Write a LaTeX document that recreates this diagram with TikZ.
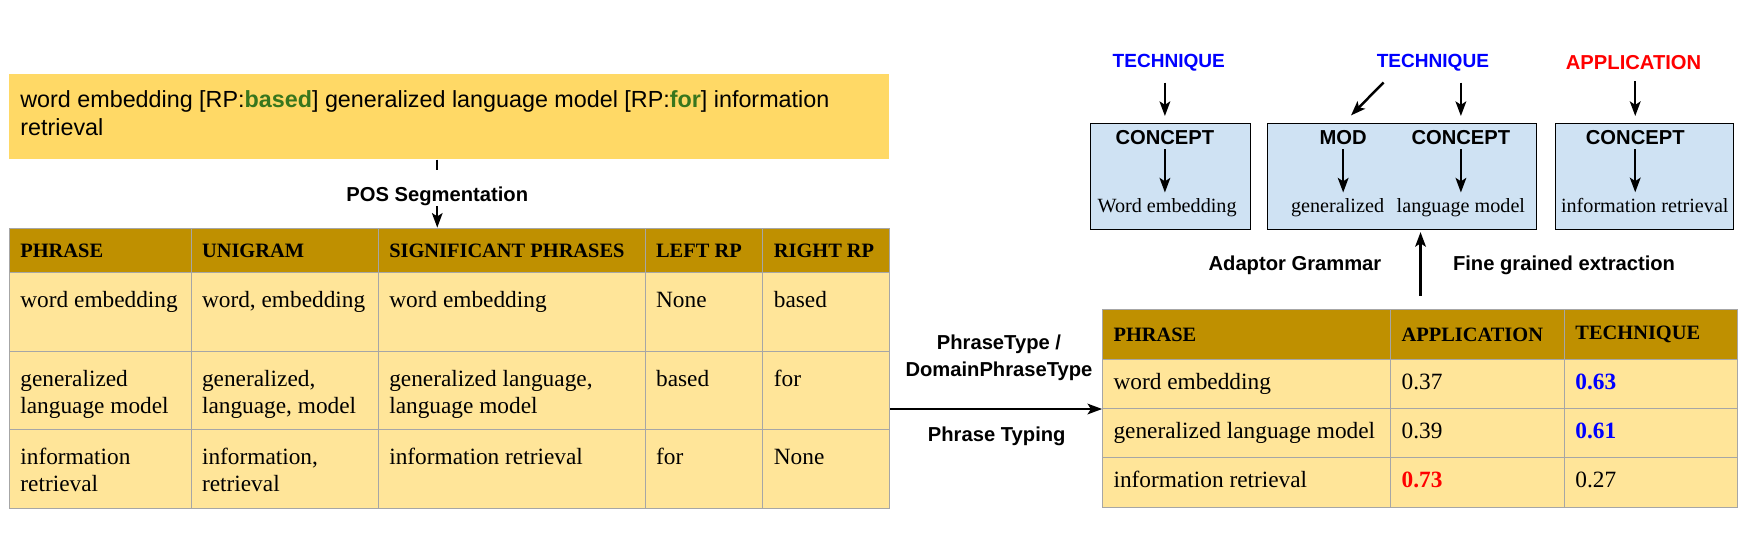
\documentclass[tikz,border=0pt]{standalone}
\usepackage{fontspec}
\setmainfont{Liberation Serif}
\setsansfont{Liberation Sans}
\usetikzlibrary{arrows.meta,calc}
\definecolor{topfill}{HTML}{FFD966}
\definecolor{bodyfill}{HTML}{FFE599}
\definecolor{hdrfill}{HTML}{BF9000}
\definecolor{conceptfill}{HTML}{CFE2F3}
\definecolor{gridgray}{HTML}{A6A6A6}
\definecolor{rpgreen}{HTML}{38761D}
\definecolor{techblue}{HTML}{0000FF}
\definecolor{appred}{HTML}{FF0000}
\newcommand{\bodyfnt}{\fontsize{20.8pt}{24pt}\selectfont}
\newcommand{\headfnt}{\bfseries\fontsize{18.2pt}{21pt}\selectfont}
\newcommand{\lblfnt}{\sffamily\bfseries\fontsize{18pt}{24pt}\selectfont}
\newcommand{\topfnt}{\sffamily\fontsize{20.8pt}{25pt}\selectfont}
\newcommand{\tagfnt}{\sffamily\bfseries\fontsize{17pt}{20pt}\selectfont}
\newcommand{\appfnt}{\sffamily\bfseries\fontsize{18pt}{20pt}\selectfont}
\newcommand{\boxfnt}{\fontsize{18pt}{22pt}\selectfont}
\begin{document}
\begin{tikzpicture}[x=1pt,y=-1pt,
  topbox/.style={fill=topfill, anchor=north west, minimum width=785pt, minimum height=76pt, inner sep=0pt},
  toptxt/.style={anchor=north west, inner sep=0pt, align=left, font=\topfnt},
  hdrL/.style={draw=gridgray, line width=0.8pt, fill=hdrfill, anchor=north west, inner sep=0pt, minimum height=40pt},
  cellL/.style={draw=gridgray, line width=0.8pt, fill=bodyfill, anchor=north west, inner sep=0pt, minimum height=70pt},
  hdrR/.style={draw=gridgray, line width=0.8pt, fill=hdrfill, anchor=north west, inner sep=0pt, minimum height=44pt},
  cellR/.style={draw=gridgray, line width=0.8pt, fill=bodyfill, anchor=north west, inner sep=0pt, minimum height=44pt},
  htxt/.style={anchor=west, inner sep=0pt, font=\headfnt},
  btxt/.style={anchor=north west, inner sep=0pt, font=\bodyfnt, align=left},
  rtxt/.style={anchor=west, inner sep=0pt, font=\bodyfnt, text height=14pt, text depth=4.5pt},
  lbl/.style={inner sep=0pt, font=\lblfnt, align=center},
  tag/.style={inner sep=0pt, font=\tagfnt},
  cbox/.style={draw=black, line width=1pt, fill=conceptfill, anchor=north west, minimum height=94pt, inner sep=0pt},
  clab/.style={inner sep=0pt, font=\lblfnt},
  ctxt/.style={inner sep=0pt, font=\boxfnt, anchor=base},
  conn/.style={line width=2.2pt, -{Stealth[length=13pt,width=9.5pt,inset=3pt]}},
  plain/.style={line width=2pt}
]
\useasboundingbox (0,0) rectangle (1568,483);

% ---------- top sentence box
\node[topbox] (top) at (8,66) {};
\node[toptxt] (toptext) at (18,80.6) {word embedding [RP:\textbf{\color{rpgreen}based}] generalized language model [RP:\textbf{\color{rpgreen}for}] information\\retrieval};

% ---------- left table
\node[hdrL, minimum width=162pt] (h1) at (8,203) {};
\node[hdrL, minimum width=167pt] (h2) at (170,203) {};
\node[hdrL, minimum width=238pt] (h3) at (337,203) {};
\node[hdrL, minimum width=105pt] (h4) at (575,203) {};
\node[hdrL, minimum width=113pt] (h5) at (680,203) {};
\foreach \r/\y in {1/243,2/313,3/383}{
  \node[cellL, minimum width=162pt] (r\r1) at (8,\y) {};
  \node[cellL, minimum width=167pt] (r\r2) at (170,\y) {};
  \node[cellL, minimum width=238pt] (r\r3) at (337,\y) {};
  \node[cellL, minimum width=105pt] (r\r4) at (575,\y) {};
  \node[cellL, minimum width=113pt] (r\r5) at (680,\y) {};
}
\node[htxt] (th1) at ($(h1.west)+(10,0)$) {PHRASE};
\node[htxt] (th2) at ($(h2.west)+(10,0)$) {UNIGRAM};
\node[htxt] (th3) at ($(h3.west)+(10,0)$) {SIGNIFICANT PHRASES};
\node[htxt] (th4) at ($(h4.west)+(10,0)$) {LEFT RP};
\node[htxt] (th5) at ($(h5.west)+(10,0)$) {RIGHT RP};

\node[btxt] (t11) at ($(r11.north west)+(10,16.8)$) {word embedding};
\node[btxt] (t12) at ($(r12.north west)+(10,16.8)$) {word, embedding};
\node[btxt] (t13) at ($(r13.north west)+(10,16.8)$) {word embedding};
\node[btxt] (t14) at ($(r14.north west)+(10,17.2)$) {None};
\node[btxt] (t15) at ($(r15.north west)+(10,16.8)$) {based};

\node[btxt] (t21) at ($(r21.north west)+(10,16.8)$) {generalized\\language model};
\node[btxt] (t22) at ($(r22.north west)+(10,16.8)$) {generalized,\\language, model};
\node[btxt] (t23) at ($(r23.north west)+(10,16.8)$) {generalized language,\\language model};
\node[btxt] (t24) at ($(r24.north west)+(10,16.8)$) {based};
\node[btxt] (t25) at ($(r25.north west)+(10,16.8)$) {for};

\node[btxt] (t31) at ($(r31.north west)+(10,16.8)$) {information\\retrieval};
\node[btxt] (t32) at ($(r32.north west)+(10,16.8)$) {information,\\retrieval};
\node[btxt] (t33) at ($(r33.north west)+(10,16.8)$) {information retrieval};
\node[btxt] (t34) at ($(r34.north west)+(10,16.8)$) {for};
\node[btxt] (t35) at ($(r35.north west)+(10,17.2)$) {None};

% ---------- POS segmentation connector
\node[lbl, anchor=base] (pos) at (390,180) {POS Segmentation};
\draw[plain] (top.south -| pos.north) -- ($(pos.north)+(0,-15)$);
\draw[conn, line width=1.8pt] (pos.south) -- (pos.south |- h3.north);

% ---------- right table
\node[hdrR, minimum width=257pt] (Rh1) at (983,276) {};
\node[hdrR, minimum width=155pt] (Rh2) at (1240,276) {};
\node[hdrR, minimum width=154pt] (Rh3) at (1395,276) {};
\foreach \r/\y in {1/320,2/364,3/408}{
  \node[cellR, minimum width=257pt] (R\r1) at (983,\y) {};
  \node[cellR, minimum width=155pt] (R\r2) at (1240,\y) {};
  \node[cellR, minimum width=154pt] (R\r3) at (1395,\y) {};
}
\node[htxt] (Th1) at ($(Rh1.west)+(10,0)$) {PHRASE};
\node[htxt] (Th2) at ($(Rh2.west)+(10,0)$) {APPLICATION};
\node[htxt] (Th3) at ($(Rh3.west)+(10,0)$) {TECHNIQUE};
\node[rtxt] (T11) at ($(R11.west)+(10,0)$) {word embedding};
\node[rtxt] (T12) at ($(R12.west)+(10,0)$) {0.37};
\node[rtxt] (T13) at ($(R13.west)+(10,0)$) {\textbf{\color{techblue}0.63}};
\node[rtxt] (T21) at ($(R21.west)+(10,0)$) {generalized language model};
\node[rtxt] (T22) at ($(R22.west)+(10,0)$) {0.39};
\node[rtxt] (T23) at ($(R23.west)+(10,0)$) {\textbf{\color{techblue}0.61}};
\node[rtxt] (T31) at ($(R31.west)+(10,0)$) {information retrieval};
\node[rtxt] (T32) at ($(R32.west)+(10,0)$) {\textbf{\color{appred}0.73}};
\node[rtxt] (T33) at ($(R33.west)+(10,0)$) {0.27};

% ---------- phrase typing connector
\draw[conn] (r25.east |- R11.south west) -- (R11.south west);
\node[lbl] (ptype) at (891,319) {PhraseType /\\DomainPhraseType};
\node[lbl] (ptyping) at (889,389) {Phrase Typing};

% ---------- concept boxes
\node[cbox, minimum width=143pt] (cb1) at (972,110) {};
\node[cbox, minimum width=240pt] (cb2) at (1130,110) {};
\node[cbox, minimum width=159.5pt] (cb3) at (1386.5,110) {};

\node[clab] (cl1) at (1039,122.5) {CONCEPT};
\node[clab] (mod) at (1198,122.5) {MOD};
\node[clab] (cl2) at (1303,122.5) {CONCEPT};
\node[clab] (cl3) at (1458.5,122.5) {CONCEPT};

\node[ctxt] (ct1) at (1041,189.4) {Word embedding};
\node[ctxt] (ct2a) at (1193,189.4) {generalized};
\node[ctxt] (ct2b) at (1303,189.4) {language model};
\node[ctxt] (ct3) at (1467,189.4) {information retrieval};

\draw[conn, shorten <=4pt, shorten >=5pt] (cl1.south) -- (cl1.south |- ct1.north);
\draw[conn, shorten <=4pt, shorten >=5pt] (mod.south) -- (mod.south |- ct2a.north);
\draw[conn, shorten <=4pt, shorten >=5pt] (cl2.south) -- (cl2.south |- ct2b.north);
\draw[conn, shorten <=4pt, shorten >=5pt] (cl3.south) -- (cl3.south |- ct3.north);

% ---------- type tags
\node[tag, text=techblue] (tq1) at (1042.5,55.8) {TECHNIQUE};
\node[tag, text=techblue] (tq2) at (1278,55.8) {TECHNIQUE};
\node[tag, font=\appfnt, text=appred] (ap) at (1457,55.8) {APPLICATION};

\draw[conn, shorten <=10pt, shorten >=6.5pt] (tq1.south -| cl1.south) -- (cb1.north -| cl1.south);
\draw[conn, shorten <=10pt, shorten >=6.5pt] (tq2.south -| cl2.north) -- (cb2.north -| cl2.north);
\draw[conn] ($(tq2.south)+(-44,10)$) -- ($(mod.north)+(7,-13)$);
\draw[conn, shorten <=10pt, shorten >=6.5pt] (ap.south -| cl3.north) -- (cb3.north -| cl3.north);

% ---------- adaptor grammar connector
\coordinate (upfoot) at (1267,264);
\draw[conn, shorten >=2pt] (upfoot) -- (upfoot |- cb2.south);
\node[lbl] (adg) at (1155,237) {Adaptor Grammar};
\node[lbl] (fge) at (1395,237) {Fine grained extraction};
\end{tikzpicture}
\end{document}
